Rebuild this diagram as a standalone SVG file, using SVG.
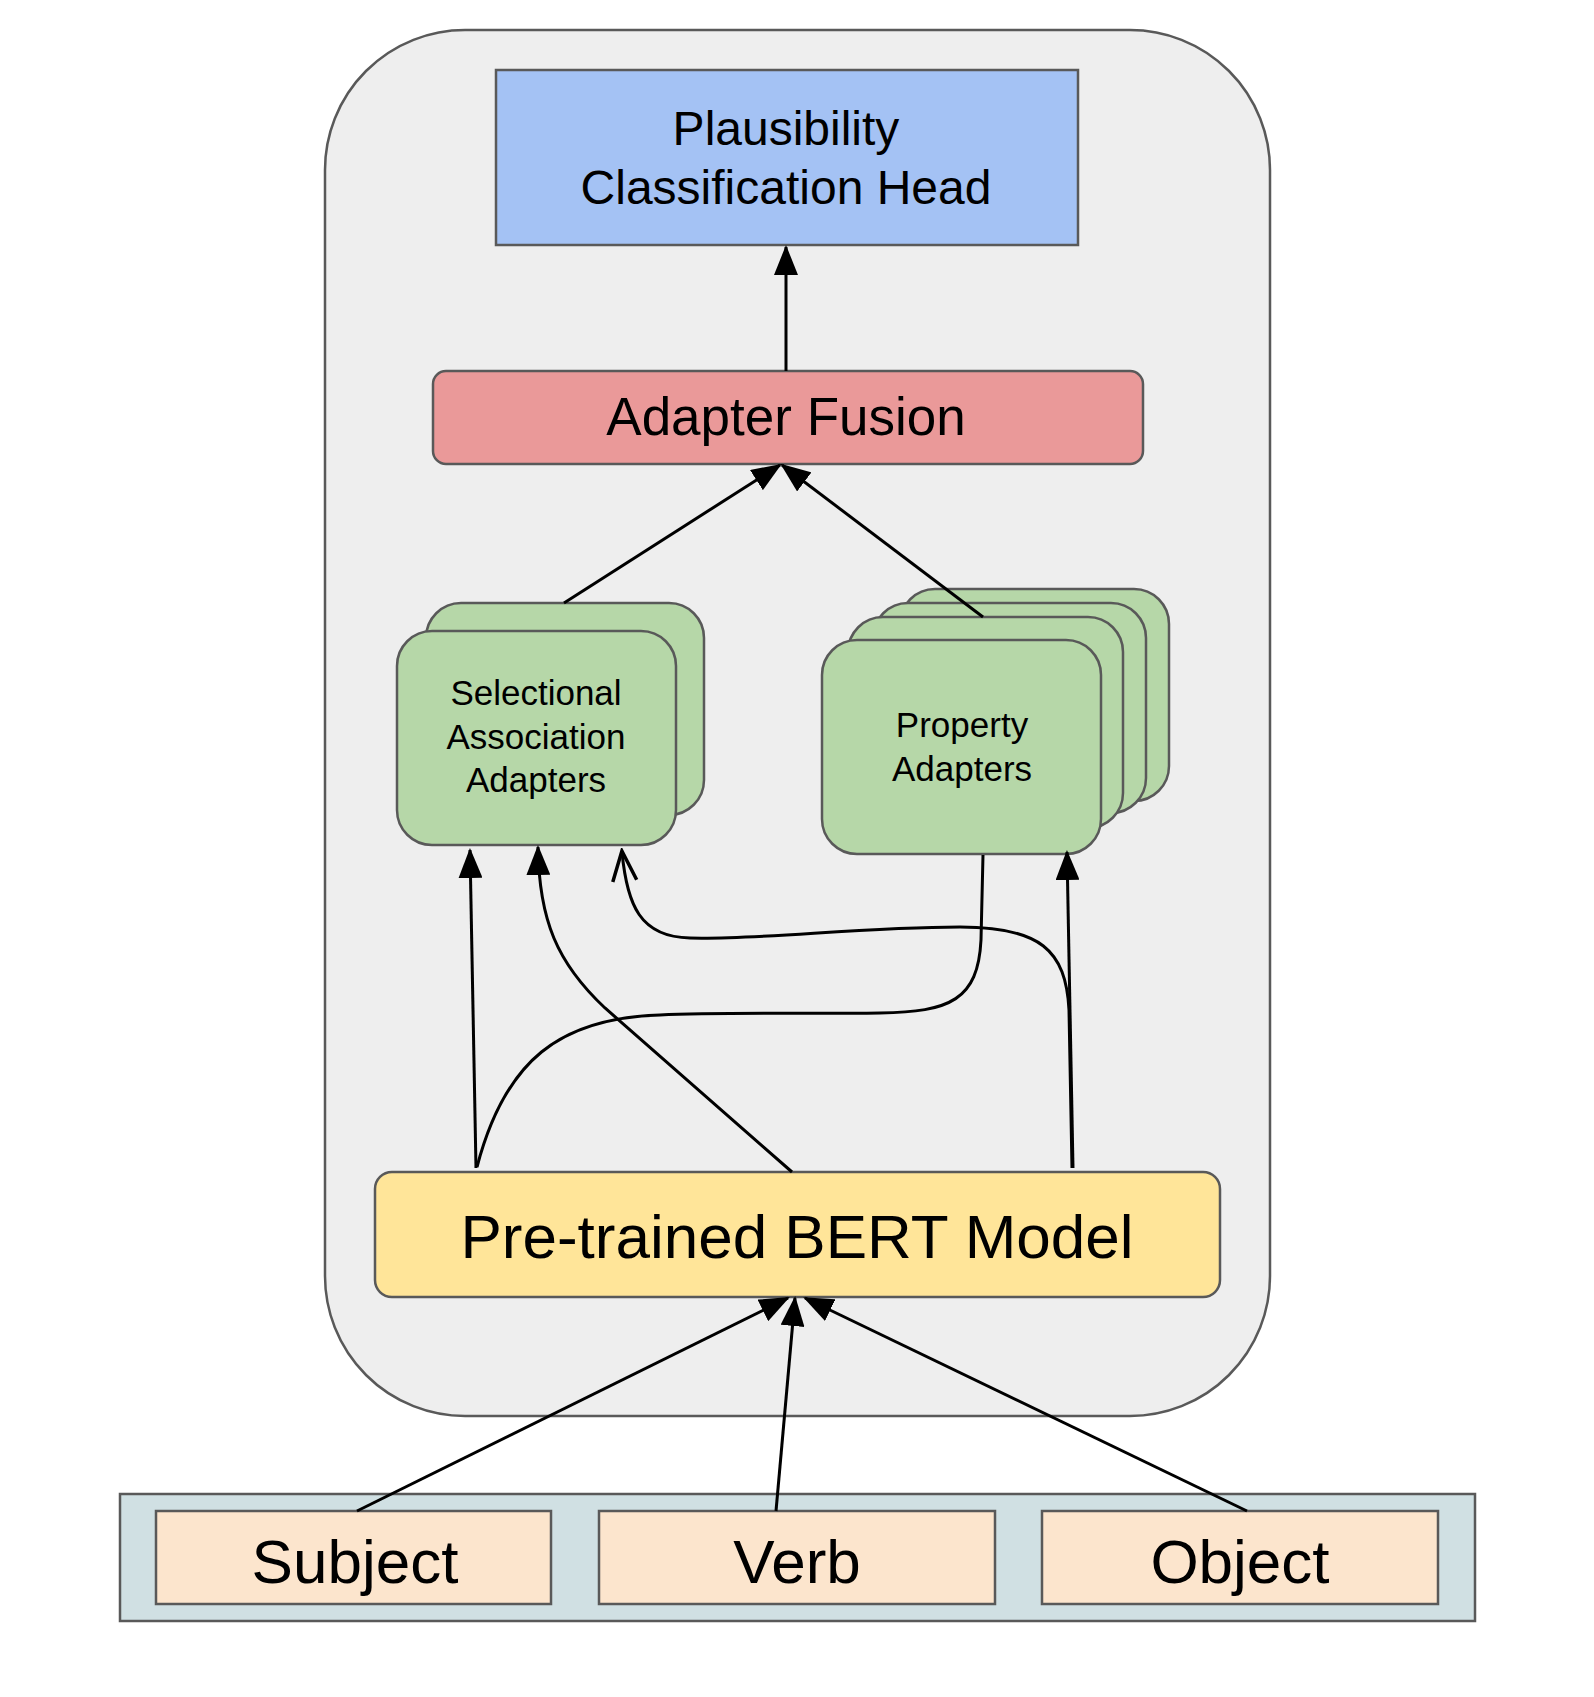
<svg xmlns="http://www.w3.org/2000/svg" width="1594" height="1697" viewBox="0 0 1594 1697">
<style>
.t{font-family:"Liberation Sans",Arial,sans-serif;fill:#000;text-anchor:middle}
.box{stroke:#595959;stroke-width:2.5}
.g{fill:#b6d7a8;stroke:#595959;stroke-width:2.5}
.c{fill:none;stroke:#000;stroke-width:3}
</style>
<defs>
<marker id="ah" markerUnits="userSpaceOnUse" markerWidth="30" markerHeight="24" viewBox="0 0 30 24" refX="28" refY="12" orient="auto">
<path d="M0,0 L30,12 L0,24 z" fill="#000"/>
</marker>
<marker id="oh" markerUnits="userSpaceOnUse" markerWidth="36" markerHeight="32" viewBox="-3 -3 36 32" refX="29" refY="13" orient="auto">
<path d="M0,1 L30,13 L0,25" fill="none" stroke="#000" stroke-width="3.5" stroke-linejoin="miter"/>
</marker>
</defs>
<rect width="1594" height="1697" fill="#fff"/>
<g id="container">
<rect x="325" y="30" width="945" height="1386" rx="140" ry="140" fill="#eeeeee" stroke="#595959" stroke-width="2.5"/>
</g>
<g id="head">
<rect class="box" x="496" y="70" width="582" height="175" fill="#a4c2f4"/>
<text class="t" x="786" y="145" font-size="48">Plausibility</text>
<text class="t" x="786" y="204" font-size="48">Classification Head</text>
</g>
<g id="fusion">
<rect class="box" x="433" y="371" width="710" height="93" rx="13" fill="#ea9999"/>
<text class="t" x="786" y="435" font-size="53">Adapter Fusion</text>
</g>
<g id="selectional">
<rect class="g" x="426" y="603" width="278" height="212" rx="35"/>
<rect class="g" x="397" y="631" width="279" height="214" rx="35"/>
<text class="t" x="536" y="705" font-size="35">Selectional</text>
<text class="t" x="536" y="749" font-size="35">Association</text>
<text class="t" x="536" y="792" font-size="35">Adapters</text>
</g>
<g id="property">
<rect class="g" x="900" y="589" width="269" height="212" rx="35"/>
<rect class="g" x="873" y="603" width="273" height="210" rx="35"/>
<rect class="g" x="848" y="617" width="275" height="211" rx="35"/>
<rect class="g" x="822" y="640" width="279" height="214" rx="35"/>
<text class="t" x="962" y="737" font-size="35">Property</text>
<text class="t" x="962" y="781" font-size="35">Adapters</text>
</g>
<g id="bert">
<rect class="box" x="375" y="1172" width="845" height="125" rx="17" fill="#ffe599"/>
<text class="t" x="797" y="1258" font-size="62">Pre-trained BERT Model</text>
</g>
<g id="inputs">
<rect class="box" x="120" y="1494" width="1355" height="127" fill="#d0e0e3"/>
</g>
<g id="subject">
<rect class="box" x="156" y="1511" width="395" height="93" fill="#fce5cd"/>
<text class="t" x="355" y="1583" font-size="62">Subject</text>
</g>
<g id="verb">
<rect class="box" x="599" y="1511" width="396" height="93" fill="#fce5cd"/>
<text class="t" x="797" y="1583" font-size="62">Verb</text>
</g>
<g id="object">
<rect class="box" x="1042" y="1511" width="396" height="93" fill="#fce5cd"/>
<text class="t" x="1240" y="1583" font-size="62">Object</text>
</g>
<g id="connectors">
<path class="c" d="M786 371 L786 247" marker-end="url(#ah)"/>
<path class="c" d="M564 603 L780 465" marker-end="url(#ah)"/>
<path class="c" d="M983 617 L782 465" marker-end="url(#ah)"/>
<path class="c" d="M476 1168 L470 850" marker-end="url(#ah)"/>
<path class="c" d="M983 855 L981 940 C978 1000 950 1012 880 1013 C800 1014 720 1012 660 1015 C560 1018 505 1060 477 1167"/>
<path class="c" d="M792 1172 L605 1008 C557 963 539 920 538 847" marker-end="url(#ah)"/>
<path class="c" d="M1073 1168 L1067 852" marker-end="url(#ah)"/>
<path class="c" d="M1072 1168 L1069 1010 C1066 950 1040 927 960 927 C860 927 760 940 690 938 C640 937 627 905 622 852" marker-end="url(#oh)"/>
<path class="c" d="M357 1511 L788 1298" marker-end="url(#ah)"/>
<path class="c" d="M776 1511 L795 1298" marker-end="url(#ah)"/>
<path class="c" d="M1247 1511 L805 1298" marker-end="url(#ah)"/>
</g>
</svg>
